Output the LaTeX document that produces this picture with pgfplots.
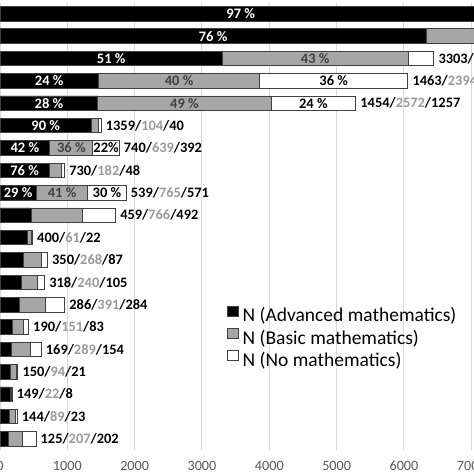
\documentclass[border=0pt]{standalone}
\usepackage{pgfplots}
\pgfplotsset{compat=1.18}
\usepackage{pgfplotstable}
\usepackage{fontspec}
\setmainfont{Carlito}

\definecolor{midgrey}{HTML}{A6A6A6}
\definecolor{barline}{HTML}{404040}
\definecolor{gridgrey}{HTML}{D9D9D9}
\definecolor{ticktext}{HTML}{595959}
\definecolor{numgrey}{HTML}{9A9A9A}
\definecolor{pctgrey}{HTML}{404040}

% N per group: advanced / basic / no mathematics, with the share labels
\pgfplotstableread{
row adv  basic none padv     pbasic   pnone
1   7150 150   71   {97~\%}  {}       {}
2   6330 1600  400  {76~\%}  {}       {}
3   3303 2757  383  {51~\%}  {43~\%}  {}
4   1463 2394  2200 {24~\%}  {40~\%}  {36~\%}
5   1454 2572  1257 {28~\%}  {49~\%}  {24~\%}
6   1359 104   40   {90~\%}  {}       {}
7   740  639   392  {42~\%}  {36~\%}  {22\%}
8   730  182   48   {76~\%}  {}       {}
9   539  765   571  {29~\%}  {41~\%}  {30~\%}
10  459  766   492  {}       {}       {}
11  400  61    22   {}       {}       {}
12  350  268   87   {}       {}       {}
13  318  240   105  {}       {}       {}
14  286  391   284  {}       {}       {}
15  190  151   83   {}       {}       {}
16  169  289   154  {}       {}       {}
17  150  94    21   {}       {}       {}
18  149  22    8    {}       {}       {}
19  144  89    23   {}       {}       {}
20  125  207   202  {}       {}       {}
}\datatable

\newcommand{\cnt}[1]{\pgfmathprintnumber[fixed,precision=0,1000 sep={}]{#1}}

\begin{document}
\begin{tikzpicture}
\useasboundingbox (0,0) rectangle (474pt,474pt);
\clip (0,0) rectangle (474pt,474pt);
\begin{axis}[
  at={(0pt,23.8pt)}, anchor=south west,
  scale only axis, width=474pt, height=447.7pt,
  xmin=0, xmax=7040, ymin=0.5, ymax=20.5, y dir=reverse,
  axis line style={draw=none},
  major tick length=0pt,
  ytick=\empty,
  xtick={0,1000,...,7000},
  xmajorgrids, grid style={gridgrey, line width=1pt},
  /pgf/number format/1000 sep={},
  /pgf/number format/assume math mode=true,
  xticklabel style={font=\fontsize{14.2}{16}\selectfont, text=ticktext, yshift=-7.5pt},
  bar width=14.5pt,
  legend image code/.code={\draw[draw=barline, line width=0.8pt, #1] (0pt,-1pt) rectangle (10.6pt,9.6pt);},
  legend style={draw=none, fill=none, inner sep=0pt, anchor=north west,
    at={(axis description cs:0.479,0.326)},
    font=\fontsize{19.5}{23}\selectfont,
    nodes={inner xsep=4pt, inner ysep=3.2pt}},
  legend cell align=left,
]
\addlegendimage{fill=black}
\addlegendentry{N (Advanced mathematics)}
\addlegendimage{fill=midgrey}
\addlegendentry{N (Basic mathematics)}
\addlegendimage{fill=white}
\addlegendentry{N (No mathematics)}

% segments, widest first so each narrower one sits on top
\addplot[xbar, bar shift=0pt, fill=white, draw=barline, line width=0.8pt, forget plot]
  table[y=row, x expr=\thisrow{adv}+\thisrow{basic}+\thisrow{none}] {\datatable};
\addplot[xbar, bar shift=0pt, fill=midgrey, draw=barline, line width=0.8pt, forget plot]
  table[y=row, x expr=\thisrow{adv}+\thisrow{basic}] {\datatable};
\addplot[xbar, bar shift=0pt, fill=black, draw=barline, line width=0.8pt, forget plot]
  table[y=row, x=adv] {\datatable};

% share labels centred in each segment
\addplot[only marks, mark=none, forget plot, point meta=explicit symbolic,
  nodes near coords,
  every node near coord/.append style={anchor=center, text=white,
    font=\bfseries\fontsize{14.5}{16}\selectfont}]
  table[y=row, x expr=\thisrow{adv}/2, meta=padv] {\datatable};
\addplot[only marks, mark=none, forget plot, point meta=explicit symbolic,
  nodes near coords,
  every node near coord/.append style={anchor=center, text=pctgrey,
    font=\bfseries\fontsize{14.5}{16}\selectfont}]
  table[y=row, x expr=\thisrow{adv}+\thisrow{basic}/2, meta=pbasic] {\datatable};
\addplot[only marks, mark=none, forget plot, point meta=explicit symbolic,
  nodes near coords,
  every node near coord/.append style={anchor=center, text=black,
    font=\bfseries\fontsize{14.5}{16}\selectfont}]
  table[y=row, x expr=\thisrow{adv}+\thisrow{basic}+\thisrow{none}/2, meta=pnone] {\datatable};

% counts after each bar
\addplot[only marks, mark=none, forget plot,
  visualization depends on={\thisrow{adv} \as \vadv},
  visualization depends on={\thisrow{basic} \as \vbasic},
  visualization depends on={\thisrow{none} \as \vnone},
  nodes near coords={\cnt{\vadv}/\textcolor{numgrey}{\cnt{\vbasic}}/\cnt{\vnone}},
  every node near coord/.append style={anchor=west, text=black, inner sep=1pt, xshift=3.5pt,
    font=\bfseries\fontsize{14.4}{16}\selectfont}]
  table[y=row, x expr=\thisrow{adv}+\thisrow{basic}+\thisrow{none}] {\datatable};
\end{axis}
\end{tikzpicture}
\end{document}
